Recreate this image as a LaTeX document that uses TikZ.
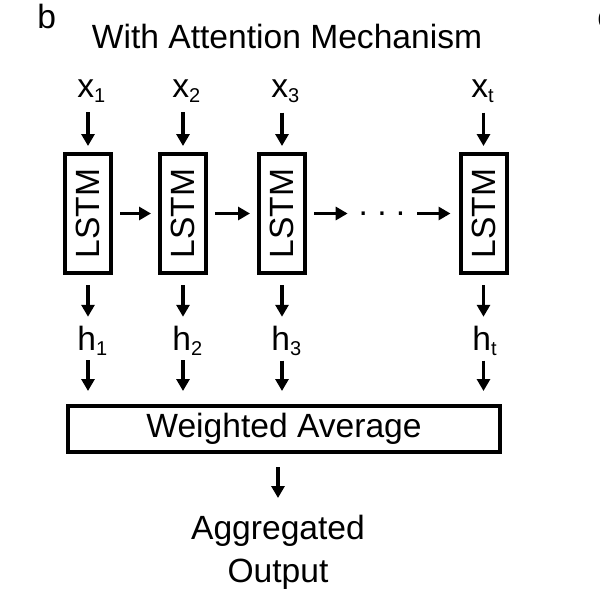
\documentclass[tikz,border=0pt]{standalone}
\usepackage{fontspec}
\setmainfont{Liberation Sans}
\usetikzlibrary{arrows.meta,positioning}
\newcommand{\lowidx}[1]{\raisebox{-2.5pt}{\fontsize{10}{12}\selectfont #1}}

\begin{document}
\begin{tikzpicture}[x = .5pt, y = -.5pt,
    every node/.style = {inner sep = 0pt, font = \fontsize{16.8}{21.5}\selectfont},
    cell/.style = {draw, line width = 2pt, minimum width = 23pt, minimum height = 59.5pt},
    arr/.style = {-{Triangle[length = 6pt, width = 6.5pt]}, line width = 1.75pt},
    feed/.style = {arr, shorten < = 5pt, shorten > = 3pt},
    chain/.style = {arr, shorten < = 3.5pt, shorten > = 3.5pt},
    emit/.style = {arr, shorten < = 5pt, shorten > = 4.25pt},
    pool/.style = {arr, shorten < = 2.5pt, shorten > = 6.5pt}]
  \useasboundingbox (0,0) rectangle (600,600);
  \node[anchor = base west] (b) at (37,28) {b};
  \node[anchor = base west] (c) at (597,28) {c};
  \node[anchor = base] (title) at (287,48) {With Attention Mechanism};
    % LSTM cells
    \node[cell] (l1) at (88,213.5) {\rotatebox{90}{LSTM}};
    \node[cell] (l2) at (183,213.5) {\rotatebox{90}{LSTM}};
    \node[cell] (l3) at (282,213.5) {\rotatebox{90}{LSTM}};
    \node (dots) at (382,213.5) {.\ .\ .};
    \node[cell] (lt) at (483.5,213.5) {\rotatebox{90}{LSTM}};
    % Inputs
    \node[anchor = base west] (x1) at (77,97) {x\lowidx{1}};
    \node[anchor = base west] (x2) at (172,97) {x\lowidx{2}};
    \node[anchor = base west] (x3) at (271,97) {x\lowidx{3}};
    \node[anchor = base west] (xt) at (471,97) {x\lowidx{t}};
    % Hidden states
    \node[anchor = base west] (h1) at (77,350) {h\lowidx{1}};
    \node[anchor = base west] (h2) at (172,350) {h\lowidx{2}};
    \node[anchor = base west] (h3) at (271,350) {h\lowidx{3}};
    \node[anchor = base west] (ht) at (472,350) {h\lowidx{t}};
    \node[draw, line width = 2pt, minimum width = 216pt, minimum height = 23pt] (avg) at (284,429) {Weighted Average};
    \node[anchor = north, align = center] (out) at (278,515) {Aggregated\\Output};
    \draw[feed] (x1.south -| l1.north) -- (l1.north);
    \draw[feed] (x2.south -| l2.north) -- (l2.north);
    \draw[feed] (x3.south -| l3.north) -- (l3.north);
    \draw[feed] (xt.south -| lt.north) -- (lt.north);
    \draw[chain] (l1) -- (l2);
    \draw[chain] (l2) -- (l3);
    \draw[arr, shorten < = 3.5pt, shorten > = 5.3pt] (l3) -- (dots);
    \draw[arr, shorten < = 5.8pt, shorten > = 4pt] (dots) -- (lt);
    \draw[emit] (l1.south) -- (l1.south |- h1.north);
    \draw[emit] (l2.south) -- (l2.south |- h2.north);
    \draw[emit] (l3.south) -- (l3.south |- h3.north);
    \draw[emit] (lt.south) -- (lt.south |- ht.north);
    \draw[pool] (h1.south -| l1.south) -- (l1.south |- avg.north);
    \draw[pool] (h2.south -| l2.south) -- (l2.south |- avg.north);
    \draw[pool] (h3.south -| l3.south) -- (l3.south |- avg.north);
    \draw[pool] (ht.south -| lt.south) -- (lt.south |- avg.north);
    \draw[arr, shorten < = 6.5pt, shorten > = 8.5pt] (avg.south -| out.north) -- (out.north);
\end{tikzpicture}
\end{document}
